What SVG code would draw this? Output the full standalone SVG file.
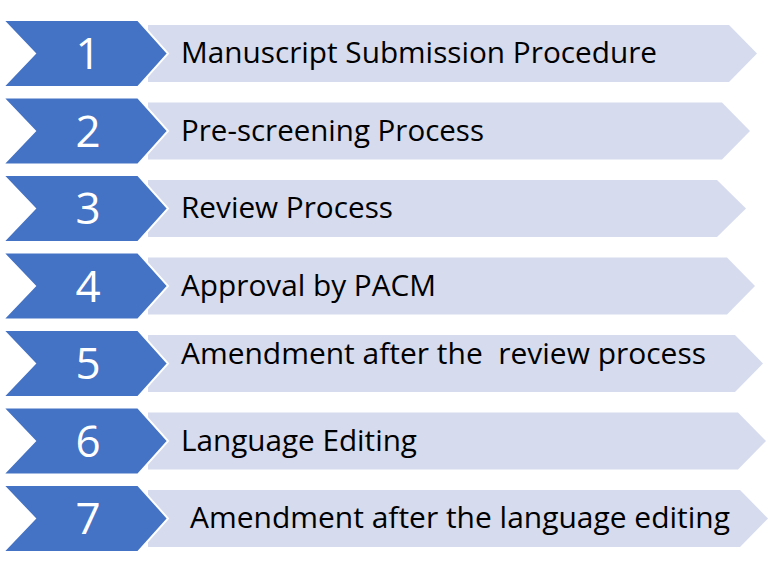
<svg xmlns="http://www.w3.org/2000/svg" width="768" height="582" viewBox="0 0 768 582">
<style>
.bar{fill:#D6DBEE}
.chev{fill:#4472C4;stroke:#fff;stroke-width:2}
.num{font-family:"Open Sans","Liberation Sans",sans-serif;font-size:44px;fill:#fff;text-anchor:middle}
.lbl{font-family:"Open Sans","Liberation Sans",sans-serif;font-size:29px;fill:#000}
</style>
<rect width="768" height="582" fill="#fff"/>
<g id="step1"><polygon class="bar" points="148,25 729,25 757,53.5 729,82 148,82"/><polygon class="chev" points="3,20 138,20 168,53.5 138,87 3,87 35,53.5"/><text class="num" x="88" y="69">1</text><text class="lbl" x="181" y="63" textLength="476" lengthAdjust="spacingAndGlyphs">Manuscript Submission Procedure</text></g>
<g id="step2"><polygon class="bar" points="148,102.5 722,102.5 750,131 722,159.5 148,159.5"/><polygon class="chev" points="3,97.5 138,97.5 168,131 138,164.5 3,164.5 35,131"/><text class="num" x="88" y="146.5">2</text><text class="lbl" x="181" y="140.5" textLength="303" lengthAdjust="spacingAndGlyphs">Pre-screening Process</text></g>
<g id="step3"><polygon class="bar" points="148,180 717,180 746,208.5 717,237 148,237"/><polygon class="chev" points="3,175 138,175 168,208.5 138,242 3,242 35,208.5"/><text class="num" x="88" y="224">3</text><text class="lbl" x="181" y="218" textLength="212" lengthAdjust="spacingAndGlyphs">Review Process</text></g>
<g id="step4"><polygon class="bar" points="148,257.5 727,257.5 755,286 727,314.5 148,314.5"/><polygon class="chev" points="3,252.5 138,252.5 168,286 138,319.5 3,319.5 35,286"/><text class="num" x="88" y="301.5">4</text><text class="lbl" x="181" y="295.5" textLength="255" lengthAdjust="spacingAndGlyphs">Approval by PACM</text></g>
<g id="step5"><polygon class="bar" points="148,335 735,335 763,363.5 735,392 148,392"/><polygon class="chev" points="3,330 138,330 168,363.5 138,397 3,397 35,363.5"/><text class="num" x="88" y="379">5</text><text class="lbl" x="181" y="364" xml:space="preserve" textLength="525" lengthAdjust="spacingAndGlyphs">Amendment after the  review process</text></g>
<g id="step6"><polygon class="bar" points="148,412.5 738,412.5 766,441 738,469.5 148,469.5"/><polygon class="chev" points="3,407.5 138,407.5 168,441 138,474.5 3,474.5 35,441"/><text class="num" x="88" y="456.5">6</text><text class="lbl" x="181" y="450.5" textLength="236" lengthAdjust="spacingAndGlyphs">Language Editing</text></g>
<g id="step7"><polygon class="bar" points="148,490 740,490 768,518.5 740,547 148,547"/><polygon class="chev" points="3,485 138,485 168,518.5 138,552 3,552 35,518.5"/><text class="num" x="88" y="534">7</text><text class="lbl" x="190" y="528" textLength="540" lengthAdjust="spacingAndGlyphs">Amendment after the language editing</text></g>
<g id="connectors"/>
</svg>
